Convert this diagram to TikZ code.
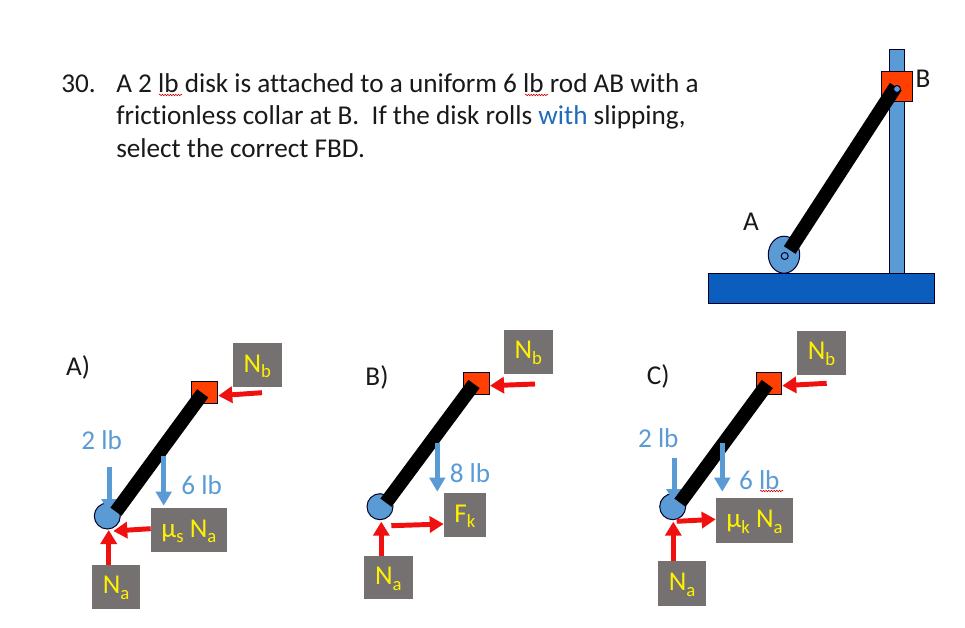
\documentclass[tikz,border=0pt]{standalone}
\usepackage{fontspec}
\setmainfont[Ligatures=NoCommon]{Carlito}
\usetikzlibrary{arrows.meta,decorations.pathmorphing}
\definecolor{ground}{HTML}{0B5EBD}
\definecolor{steel}{HTML}{5B9BD5}
\definecolor{collar}{HTML}{FF4000}
\definecolor{plate}{HTML}{767171}
\definecolor{forcered}{HTML}{F01010}
\definecolor{withblue}{HTML}{1F6CB8}
\newcommand{\subs}[1]{\raisebox{-0.22em}{\fontsize{14}{14}\selectfont #1}}
\tikzset{
  x=0.75pt,y=-0.75pt,
  body/.style={font=\fontsize{20.4}{20.4}\selectfont,anchor=base west,inner sep=0pt,text=black!90},
  optlabel/.style={font=\fontsize{20.4}{20.4}\selectfont,inner sep=0pt,text=black!90},
  weightlabel/.style={font=\fontsize{20.4}{20.4}\selectfont,inner sep=0pt,text=steel},
  plate box/.style 2 args={fill=plate,text=yellow,inner sep=0pt,font=\fontsize{20.4}{20.4}\selectfont,text height=1.05em,text depth=0pt,minimum width=#1*0.75pt,minimum height=#2*0.75pt},
  solid part/.style={draw=black!85!blue,line width=0.75pt},
  rod/.style={line width=10.4pt,draw=black},
  force/.style={draw=forcered,line width=3.7pt,-{Triangle[length=10.5pt,width=12pt]}},
  weight/.style={draw=steel,line width=3.6pt,-{Triangle[length=10.5pt,width=11.5pt]}},
  squiggle/.style={draw=red!80!black,line width=0.4pt,decorate,decoration={snake,segment length=2pt,amplitude=0.6pt}},
}
\begin{document}
\begin{tikzpicture}
\useasboundingbox[fill=white] (0,0) rectangle (965,628);
% problem text
\node[body] (num) at (61,92) {30.};
\node[body] (l1) at (116,92) {A 2 lb disk is attached to a uniform 6 lb rod AB with a};
\node[body] (l2) at (116,124.6) {frictionless collar at B.\ \ If the disk rolls \textcolor{withblue}{with} slipping,};
\node[body] (l3) at (116,157) {select the correct FBD.};
\draw[squiggle] (159,95) -- (182,95);
\draw[squiggle] (525,95) -- (548,95);
% mechanism
\draw[solid part,fill=steel] (889.5,49) rectangle (904.7,273);
\draw[solid part,fill=ground] (708,273) rectangle (934,303);
\draw[solid part,fill=collar] (881,71) rectangle (912,101);
\draw[solid part,fill=steel] (784,254.7) ellipse [x radius=15.7,y radius=18.5];
\coordinate (rodA) at (789.7,250);
\coordinate (rodB) at (895.7,86.7);
\draw[rod] (rodA) -- (rodB);
\draw[solid part,fill=steel] (897,89) circle [radius=3.5];
\draw[solid part,fill=steel] (784.7,256) circle [radius=3.5];
\node[optlabel] (labA) at (751,221.7) {A};
\node[optlabel] (labB) at (923,79) {B};
% option A
\node[optlabel] (optA) at (78,367) {A)};
\node[plate box={48.7}{43.4}] (aNb) at (257.3,365) {N\subs{b}};
\node[plate box={75.7}{43.4}] (aMu) at (188.8,530) {μ\subs{s} N\subs{a}};
\node[plate box={48}{43.7}] (aNa) at (116,586.8) {N\subs{a}};
\draw[solid part,fill=collar] (191.3,381.3) rectangle (217.3,403.3);
\draw[solid part,fill=steel] (107.3,516) circle [radius=13];
\coordinate (aR1) at (116,511.7);
\coordinate (aR2) at (202.7,393.3);
\coordinate (a2a) at (109.3,466.7);
\coordinate (a2b) at (109.3,513);
\coordinate (a6a) at (163.7,456);
\coordinate (a6b) at (163.7,505.7);
\coordinate (aF1) at (262,392.7);
\coordinate (aF2) at (218.3,395.7);
\coordinate (aF3) at (113.3,531);
\coordinate (aF4) at (108.7,530);
\draw[weight] (a2a) -- (a2b);
\draw[rod] (aR1) -- (aR2);
\draw[weight] (a6a) -- (a6b);
\draw[force] (aF1) -- (aF2);
\draw[force] (aMu.west |- 0,528.7) -- (aF3);
\draw[force] (aNa.north -| aF4) -- (aF4);
\node[weightlabel] (a2) at (101.7,440) {2 lb};
\node[weightlabel] (a6) at (201.7,485) {6 lb};
% option B
\node[optlabel] (optB) at (377,377) {B)};
\node[plate box={48.7}{43.7}] (bNb) at (528.3,351.8) {N\subs{b}};
\node[plate box={41.7}{43.4}] (bFk) at (464.8,515) {F\subs{k}};
\node[plate box={48.7}{43.3}] (bNa) at (388.3,577.6) {N\subs{a}};
\draw[solid part,fill=collar] (463.3,372.3) rectangle (489.3,394.3);
\draw[solid part,fill=steel] (380,506.7) circle [radius=13];
\coordinate (bR1) at (386,502.7);
\coordinate (bR2) at (474,384);
\coordinate (b8a) at (437.3,443.3);
\coordinate (b8b) at (437.3,491.7);
\coordinate (bF1) at (535,384);
\coordinate (bF2) at (490,385.7);
\coordinate (bF3) at (391.3,525.7);
\coordinate (bF4) at (381.3,521.7);
\draw[rod] (bR1) -- (bR2);
\draw[weight] (b8a) -- (b8b);
\draw[force] (bF1) -- (bF2);
\draw[force] (bF3) -- (bFk.west |- 0,524);
\draw[force] (bNa.north -| bF4) -- (bF4);
\node[weightlabel] (b8) at (470,473.3) {8 lb};
% option C
\node[optlabel] (optC) at (658.3,376.7) {C)};
\node[plate box={49}{43.7}] (cNb) at (821.5,352.8) {N\subs{b}};
\node[plate box={77}{44.7}] (cMu) at (754.5,520.3) {μ\subs{k} N\subs{a}};
\node[plate box={48}{44.7}] (cNa) at (682,583.3) {N\subs{a}};
\draw[solid part,fill=collar] (756.3,372.3) rectangle (781.7,394.3);
\draw[solid part,fill=steel] (672.7,506.7) circle [radius=13];
\coordinate (cR1) at (680,502.7);
\coordinate (cR2) at (767.3,384);
\coordinate (c2a) at (674.3,457.7);
\coordinate (c2b) at (674.3,503);
\coordinate (c6a) at (722.3,443.3);
\coordinate (c6b) at (722.3,491.7);
\coordinate (cF1) at (826.7,383.3);
\coordinate (cF2) at (782.3,385.7);
\coordinate (cF3) at (676.7,521.3);
\coordinate (cF4) at (673.3,521.7);
\draw[weight] (c2a) -- (c2b);
\draw[rod] (cR1) -- (cR2);
\draw[weight] (c6a) -- (c6b);
\draw[force] (cF1) -- (cF2);
\draw[force] (cF3) -- (cMu.west |- 0,519.3);
\draw[force] (cNa.north -| cF4) -- (cF4);
\node[weightlabel] (c2) at (658.3,437.7) {2 lb};
\node[weightlabel] (c6) at (759.3,480) {6 lb};
\draw[squiggle] (760,491) -- (783,491);
\end{tikzpicture}
\end{document}
